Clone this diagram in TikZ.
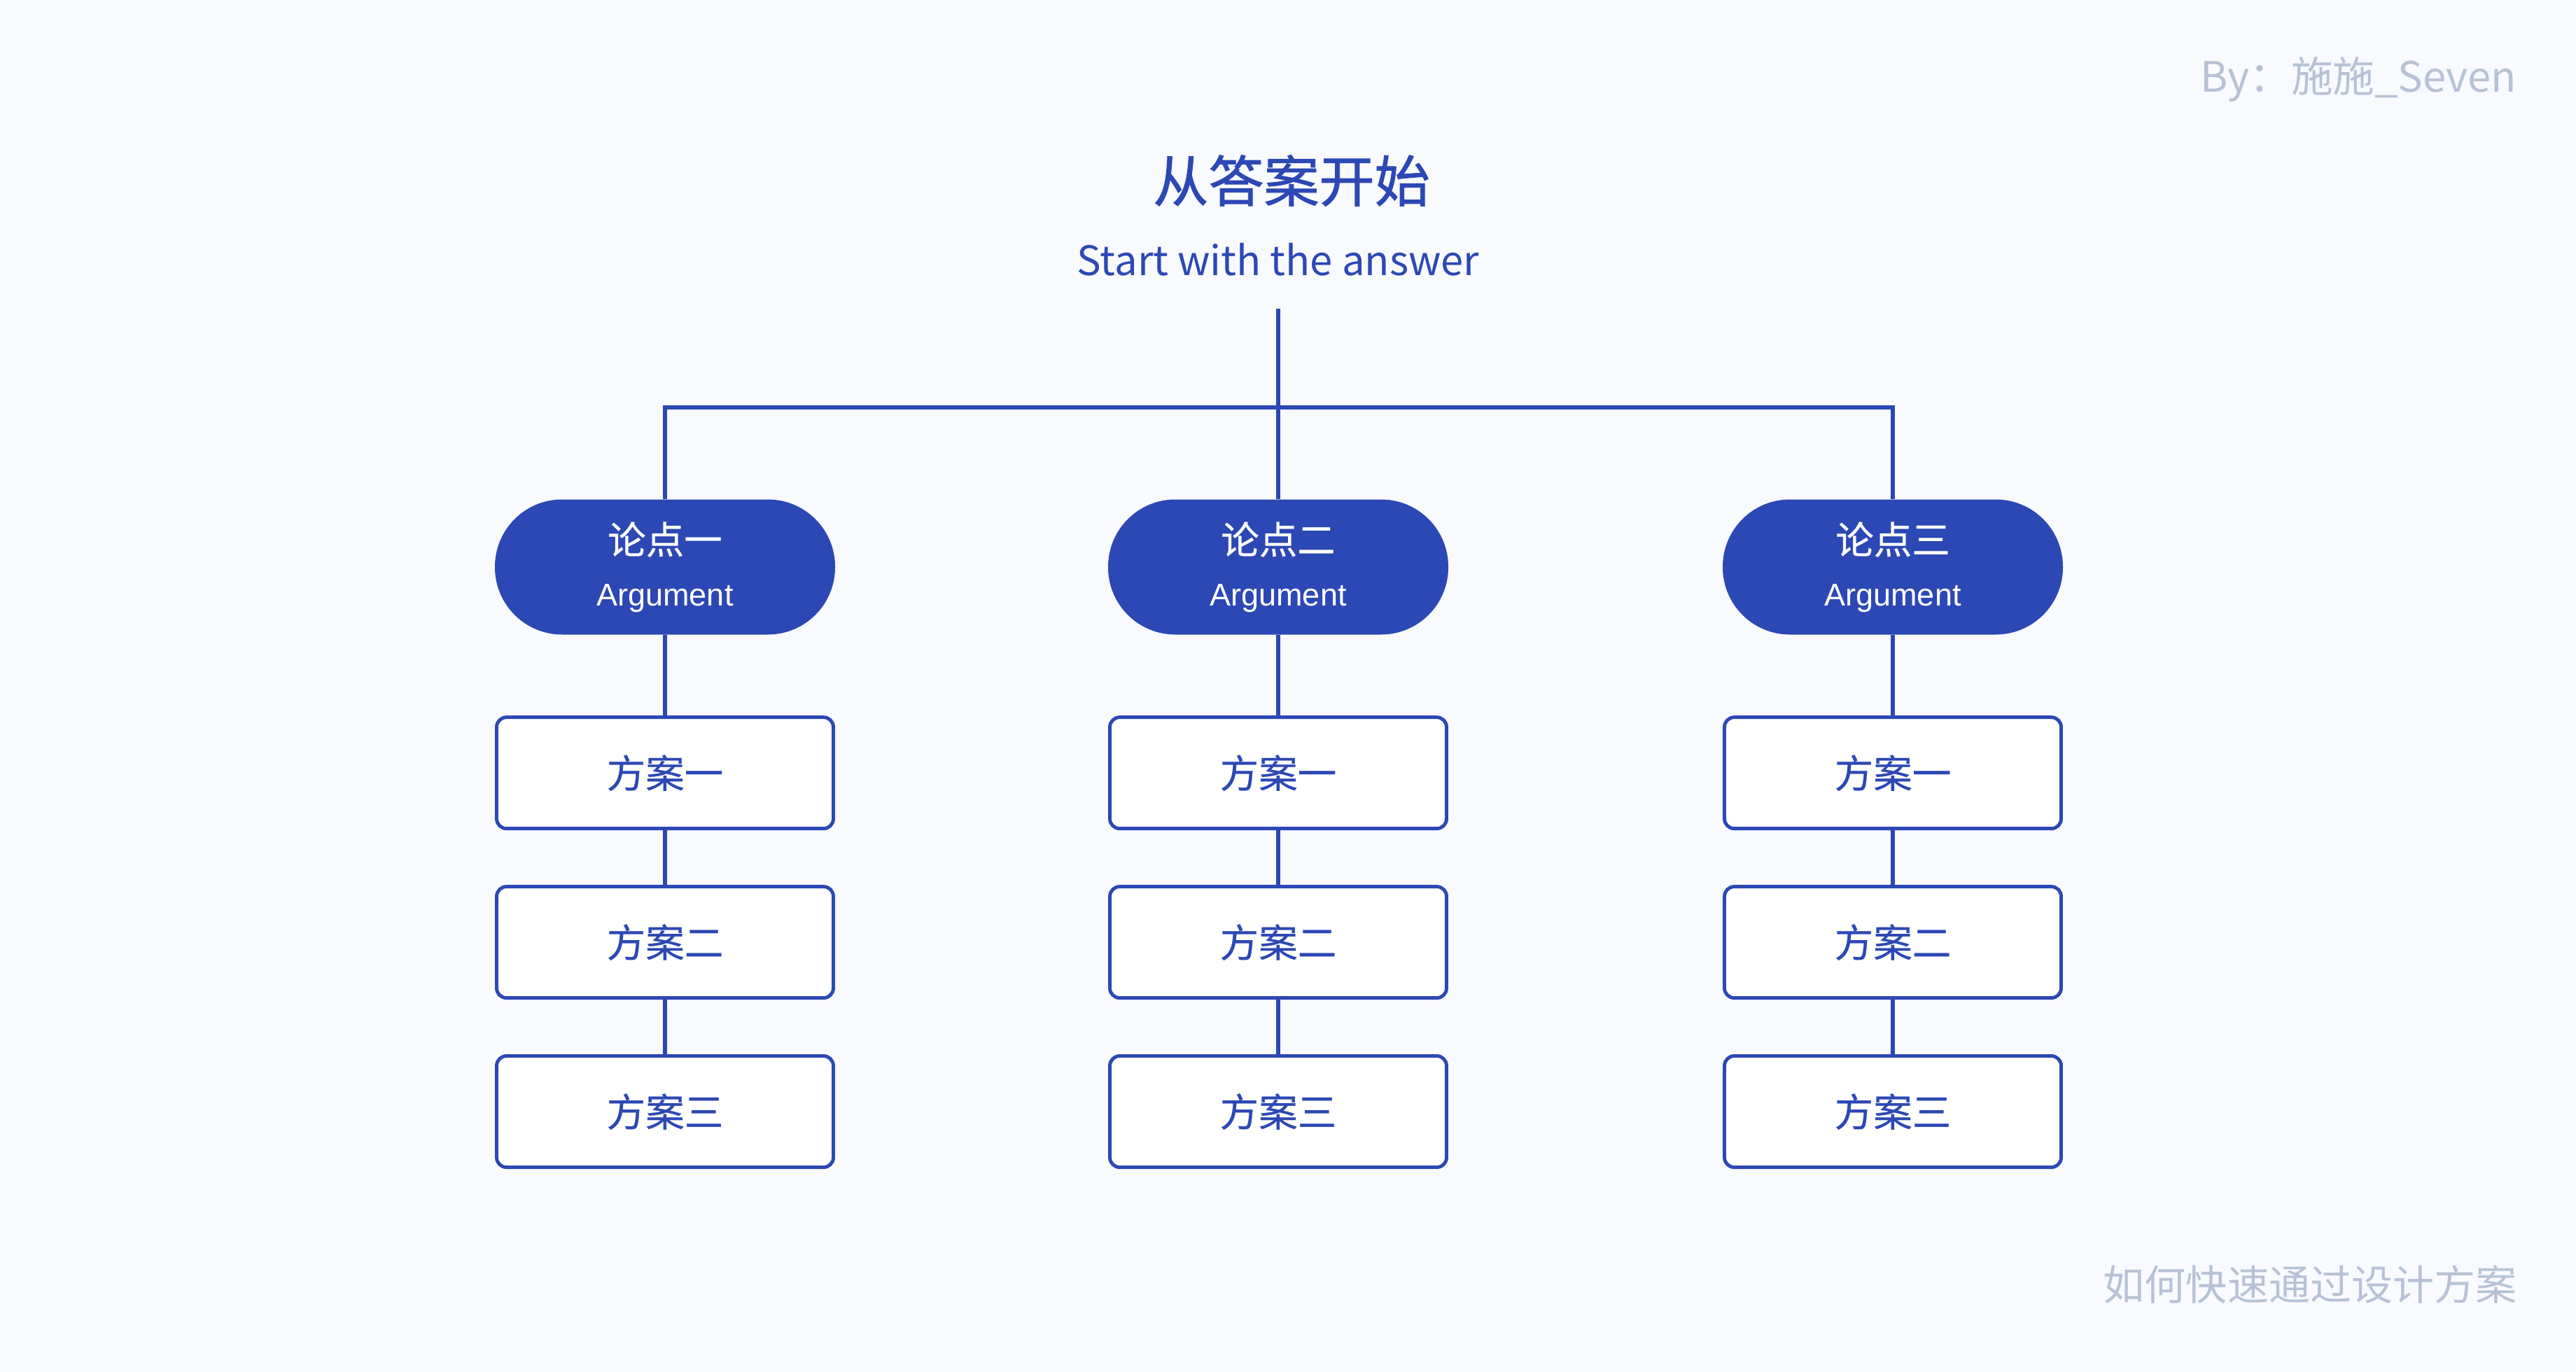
\documentclass[tikz,border=0pt]{standalone}
\usepackage{fontspec}
\setmainfont{Noto Sans CJK SC}
\newfontfamily\cjkbold[FakeBold=1.2]{Noto Sans CJK SC}
\newfontfamily\cjkmid[FakeBold=0.5]{Noto Sans CJK SC}
\newfontfamily\argfont{Liberation Sans}
\usepackage{xcolor}
\usepackage{tikz}
\usetikzlibrary{positioning}

\definecolor{mainblue}{RGB}{44,72,180}
\definecolor{softgray}{RGB}{184,194,214}
\definecolor{pagebg}{RGB}{248,250,253}

\begin{document}
\begin{tikzpicture}[
    node distance=0.78cm,
    argument/.style={rectangle, fill=mainblue, text=white, minimum width=4.86cm, minimum height=1.93cm, rounded corners=0.96cm, align=center, inner sep=0pt, font=\cjkmid\fontsize{15.5}{21}\selectfont},
    plan/.style={rectangle, draw=mainblue, line width=1.4pt, fill=white, minimum width=4.81cm, minimum height=1.59cm, rounded corners=0.14cm, text=mainblue, font=\cjkmid\fontsize{15.8}{18}\selectfont},
    line/.style={draw=mainblue, line width=1.6pt},
    note/.style={text=softgray, anchor=east, inner sep=0pt}
]

% Page
\fill[pagebg] (0,0) rectangle (36.8,-19.6);
\useasboundingbox (0,0) rectangle (36.8,-19.6);

% Heading
\node[text=mainblue, font=\cjkbold\fontsize{22.5}{26}\selectfont] (title) at (18.45,-2.58) {从答案开始};
\node[text=mainblue, font=\fontsize{16.5}{20}\selectfont] (subtitle) at (18.26,-3.71) {Start with the answer};
\coordinate (top_link) at (18.26,-4.41);
\coordinate (bar_mid) at (18.26,-5.82);

% Arguments
\node[argument] (arg_one) at (9.50,-8.10) {论点一\\{\argfont\fontsize{12.8}{21}\selectfont Argument}};
\node[argument] (arg_two) at (18.26,-8.10) {论点二\\{\argfont\fontsize{12.8}{21}\selectfont Argument}};
\node[argument] (arg_three) at (27.04,-8.10) {论点三\\{\argfont\fontsize{12.8}{21}\selectfont Argument}};
\draw[line] (arg_one) |- (bar_mid) -| (arg_three);
\draw[line] (top_link) -- (arg_two);

% Plans under argument one
\node[plan, below=1.15cm of arg_one] (one_a) {方案一};
\node[plan, below=of one_a] (one_b) {方案二};
\node[plan, below=of one_b] (one_c) {方案三};
\draw[line] (arg_one) -- (one_a);
\draw[line] (one_a) -- (one_b);
\draw[line] (one_b) -- (one_c);

% Plans under argument two
\node[plan, below=1.15cm of arg_two] (two_a) {方案一};
\node[plan, below=of two_a] (two_b) {方案二};
\node[plan, below=of two_b] (two_c) {方案三};
\draw[line] (arg_two) -- (two_a);
\draw[line] (two_a) -- (two_b);
\draw[line] (two_b) -- (two_c);

% Plans under argument three
\node[plan, below=1.15cm of arg_three] (three_a) {方案一};
\node[plan, below=of three_a] (three_b) {方案二};
\node[plan, below=of three_b] (three_c) {方案三};
\draw[line] (arg_three) -- (three_a);
\draw[line] (three_a) -- (three_b);
\draw[line] (three_b) -- (three_c);

% Corner notes
\node[note, font=\fontsize{17}{20}\selectfont] (author) at (35.96,-1.13) {By：施施\_Seven};
\node[note, font=\fontsize{16.8}{20}\selectfont] (series) at (35.96,-18.35) {如何快速通过设计方案};

\end{tikzpicture}
\end{document}
